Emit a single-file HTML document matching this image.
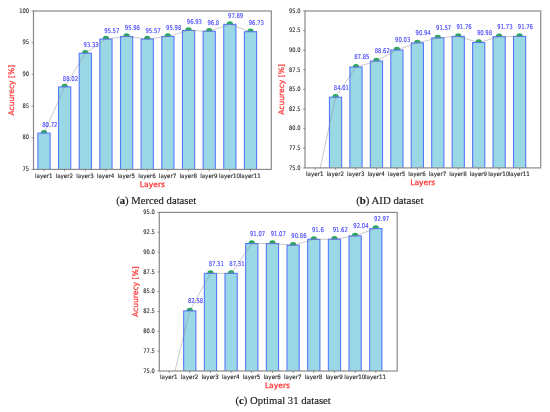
<!DOCTYPE html>
<html><head><meta charset="utf-8"><title>Figure</title>
<style>
html,body{margin:0;padding:0;background:#fff;}
body{width:550px;height:412px;overflow:hidden;}
svg{display:block;}
svg text{font-family:"DejaVu Sans","Liberation Sans",sans-serif;}
svg text.cap{font-family:"Liberation Serif","DejaVu Serif",serif;font-size:11px;fill:#1a1a1a;stroke:#1a1a1a;stroke-width:0.15px;}
</style></head><body>
<svg width="550" height="412" viewBox="0 0 550 412">
<rect width="550" height="412" fill="#fff"/>
<clipPath id="clipa"><rect x="33.5" y="11.0" width="237.80" height="158.40"/></clipPath>
<g clip-path="url(#clipa)">
<path d="M40.80,133.56 L40.80,133.16 A3.2,3.2 0 0 1 47.20,133.16 L47.20,133.56 Z" fill="#2aa75a"/>
<path d="M61.45,87.31 L61.45,86.91 A3.2,3.2 0 0 1 67.85,86.91 L67.85,87.31 Z" fill="#2aa75a"/>
<path d="M82.10,53.66 L82.10,53.26 A3.2,3.2 0 0 1 88.50,53.26 L88.50,53.66 Z" fill="#2aa75a"/>
<path d="M102.75,39.47 L102.75,39.07 A3.2,3.2 0 0 1 109.15,39.07 L109.15,39.47 Z" fill="#2aa75a"/>
<path d="M123.40,36.87 L123.40,36.47 A3.2,3.2 0 0 1 129.80,36.47 L129.80,36.87 Z" fill="#2aa75a"/>
<path d="M144.05,39.47 L144.05,39.07 A3.2,3.2 0 0 1 150.45,39.07 L150.45,39.47 Z" fill="#2aa75a"/>
<path d="M164.70,36.87 L164.70,36.47 A3.2,3.2 0 0 1 171.10,36.47 L171.10,36.87 Z" fill="#2aa75a"/>
<path d="M185.35,30.85 L185.35,30.45 A3.2,3.2 0 0 1 191.75,30.45 L191.75,30.85 Z" fill="#2aa75a"/>
<path d="M206.00,31.68 L206.00,31.28 A3.2,3.2 0 0 1 212.40,31.28 L212.40,31.68 Z" fill="#2aa75a"/>
<path d="M226.65,24.77 L226.65,24.37 A3.2,3.2 0 0 1 233.05,24.37 L233.05,24.77 Z" fill="#2aa75a"/>
<path d="M247.30,32.12 L247.30,31.72 A3.2,3.2 0 0 1 253.70,31.72 L253.70,32.12 Z" fill="#2aa75a"/>
<rect x="37.90" y="133.16" width="12.2" height="39.24" fill="#81cee0" fill-opacity="0.8" stroke="#5878fb" stroke-width="1.1"/>
<rect x="58.55" y="86.91" width="12.2" height="85.49" fill="#81cee0" fill-opacity="0.8" stroke="#5878fb" stroke-width="1.1"/>
<rect x="79.20" y="53.26" width="12.2" height="119.14" fill="#81cee0" fill-opacity="0.8" stroke="#5878fb" stroke-width="1.1"/>
<rect x="99.85" y="39.07" width="12.2" height="133.33" fill="#81cee0" fill-opacity="0.8" stroke="#5878fb" stroke-width="1.1"/>
<rect x="120.50" y="36.47" width="12.2" height="135.93" fill="#81cee0" fill-opacity="0.8" stroke="#5878fb" stroke-width="1.1"/>
<rect x="141.15" y="39.07" width="12.2" height="133.33" fill="#81cee0" fill-opacity="0.8" stroke="#5878fb" stroke-width="1.1"/>
<rect x="161.80" y="36.47" width="12.2" height="135.93" fill="#81cee0" fill-opacity="0.8" stroke="#5878fb" stroke-width="1.1"/>
<rect x="182.45" y="30.45" width="12.2" height="141.95" fill="#81cee0" fill-opacity="0.8" stroke="#5878fb" stroke-width="1.1"/>
<rect x="203.10" y="31.28" width="12.2" height="141.12" fill="#81cee0" fill-opacity="0.8" stroke="#5878fb" stroke-width="1.1"/>
<rect x="223.75" y="24.37" width="12.2" height="148.03" fill="#81cee0" fill-opacity="0.8" stroke="#5878fb" stroke-width="1.1"/>
<rect x="244.40" y="31.72" width="12.2" height="140.68" fill="#81cee0" fill-opacity="0.8" stroke="#5878fb" stroke-width="1.1"/>
<polyline fill="none" stroke="#808080" stroke-opacity="0.55" stroke-width="0.75" points="44.00,133.16 64.65,86.91 85.30,53.26 105.95,39.07 126.60,36.47 147.25,39.07 167.90,36.47 188.55,30.45 209.20,31.28 229.85,24.37 250.50,31.72"/>
</g>
<text transform="translate(42.20,126.86) scale(0.805,1)" font-size="6.6" fill="#4848ff" stroke="#4848ff" stroke-width="0.15" text-anchor="start">80.72</text>
<text transform="translate(62.85,80.61) scale(0.805,1)" font-size="6.6" fill="#4848ff" stroke="#4848ff" stroke-width="0.15" text-anchor="start">88.02</text>
<text transform="translate(83.50,46.96) scale(0.805,1)" font-size="6.6" fill="#4848ff" stroke="#4848ff" stroke-width="0.15" text-anchor="start">93.33</text>
<text transform="translate(104.15,32.77) scale(0.805,1)" font-size="6.6" fill="#4848ff" stroke="#4848ff" stroke-width="0.15" text-anchor="start">95.57</text>
<text transform="translate(124.80,30.17) scale(0.805,1)" font-size="6.6" fill="#4848ff" stroke="#4848ff" stroke-width="0.15" text-anchor="start">95.98</text>
<text transform="translate(145.45,32.77) scale(0.805,1)" font-size="6.6" fill="#4848ff" stroke="#4848ff" stroke-width="0.15" text-anchor="start">95.57</text>
<text transform="translate(166.10,30.17) scale(0.805,1)" font-size="6.6" fill="#4848ff" stroke="#4848ff" stroke-width="0.15" text-anchor="start">95.98</text>
<text transform="translate(186.75,24.15) scale(0.805,1)" font-size="6.6" fill="#4848ff" stroke="#4848ff" stroke-width="0.15" text-anchor="start">96.93</text>
<text transform="translate(207.40,24.98) scale(0.805,1)" font-size="6.6" fill="#4848ff" stroke="#4848ff" stroke-width="0.15" text-anchor="start">96.8</text>
<text transform="translate(228.05,18.07) scale(0.805,1)" font-size="6.6" fill="#4848ff" stroke="#4848ff" stroke-width="0.15" text-anchor="start">97.89</text>
<text transform="translate(248.70,25.42) scale(0.805,1)" font-size="6.6" fill="#4848ff" stroke="#4848ff" stroke-width="0.15" text-anchor="start">96.73</text>
<rect x="33.5" y="11.0" width="237.80" height="158.40" fill="none" stroke="#868686" stroke-width="1.15"/>
<line x1="44.00" x2="44.00" y1="169.4" y2="171.4" stroke="#444" stroke-width="0.5"/>
<text transform="translate(43.70,177.80) scale(0.93,1)" font-size="6.0" fill="#262626" stroke="#262626" stroke-width="0.12" text-anchor="middle">layer1</text>
<line x1="64.65" x2="64.65" y1="169.4" y2="171.4" stroke="#444" stroke-width="0.5"/>
<text transform="translate(64.35,177.80) scale(0.93,1)" font-size="6.0" fill="#262626" stroke="#262626" stroke-width="0.12" text-anchor="middle">layer2</text>
<line x1="85.30" x2="85.30" y1="169.4" y2="171.4" stroke="#444" stroke-width="0.5"/>
<text transform="translate(85.00,177.80) scale(0.93,1)" font-size="6.0" fill="#262626" stroke="#262626" stroke-width="0.12" text-anchor="middle">layer3</text>
<line x1="105.95" x2="105.95" y1="169.4" y2="171.4" stroke="#444" stroke-width="0.5"/>
<text transform="translate(105.65,177.80) scale(0.93,1)" font-size="6.0" fill="#262626" stroke="#262626" stroke-width="0.12" text-anchor="middle">layer4</text>
<line x1="126.60" x2="126.60" y1="169.4" y2="171.4" stroke="#444" stroke-width="0.5"/>
<text transform="translate(126.30,177.80) scale(0.93,1)" font-size="6.0" fill="#262626" stroke="#262626" stroke-width="0.12" text-anchor="middle">layer5</text>
<line x1="147.25" x2="147.25" y1="169.4" y2="171.4" stroke="#444" stroke-width="0.5"/>
<text transform="translate(146.95,177.80) scale(0.93,1)" font-size="6.0" fill="#262626" stroke="#262626" stroke-width="0.12" text-anchor="middle">layer6</text>
<line x1="167.90" x2="167.90" y1="169.4" y2="171.4" stroke="#444" stroke-width="0.5"/>
<text transform="translate(167.60,177.80) scale(0.93,1)" font-size="6.0" fill="#262626" stroke="#262626" stroke-width="0.12" text-anchor="middle">layer7</text>
<line x1="188.55" x2="188.55" y1="169.4" y2="171.4" stroke="#444" stroke-width="0.5"/>
<text transform="translate(188.25,177.80) scale(0.93,1)" font-size="6.0" fill="#262626" stroke="#262626" stroke-width="0.12" text-anchor="middle">layer8</text>
<line x1="209.20" x2="209.20" y1="169.4" y2="171.4" stroke="#444" stroke-width="0.5"/>
<text transform="translate(208.90,177.80) scale(0.93,1)" font-size="6.0" fill="#262626" stroke="#262626" stroke-width="0.12" text-anchor="middle">layer9</text>
<line x1="229.85" x2="229.85" y1="169.4" y2="171.4" stroke="#444" stroke-width="0.5"/>
<text transform="translate(229.55,177.80) scale(0.93,1)" font-size="6.0" fill="#262626" stroke="#262626" stroke-width="0.12" text-anchor="middle">layer10</text>
<line x1="250.50" x2="250.50" y1="169.4" y2="171.4" stroke="#444" stroke-width="0.5"/>
<text transform="translate(250.20,177.80) scale(0.93,1)" font-size="6.0" fill="#262626" stroke="#262626" stroke-width="0.12" text-anchor="middle">layer11</text>
<line x1="31.5" x2="33.5" y1="169.40" y2="169.40" stroke="#444" stroke-width="0.5"/>
<text transform="translate(29.00,171.10) scale(0.83,1)" font-size="6.2" fill="#262626" stroke="#262626" stroke-width="0.12" text-anchor="end">75</text>
<line x1="31.5" x2="33.5" y1="137.72" y2="137.72" stroke="#444" stroke-width="0.5"/>
<text transform="translate(29.00,139.42) scale(0.83,1)" font-size="6.2" fill="#262626" stroke="#262626" stroke-width="0.12" text-anchor="end">80</text>
<line x1="31.5" x2="33.5" y1="106.04" y2="106.04" stroke="#444" stroke-width="0.5"/>
<text transform="translate(29.00,107.74) scale(0.83,1)" font-size="6.2" fill="#262626" stroke="#262626" stroke-width="0.12" text-anchor="end">85</text>
<line x1="31.5" x2="33.5" y1="74.36" y2="74.36" stroke="#444" stroke-width="0.5"/>
<text transform="translate(29.00,76.06) scale(0.83,1)" font-size="6.2" fill="#262626" stroke="#262626" stroke-width="0.12" text-anchor="end">90</text>
<line x1="31.5" x2="33.5" y1="42.68" y2="42.68" stroke="#444" stroke-width="0.5"/>
<text transform="translate(29.00,44.38) scale(0.83,1)" font-size="6.2" fill="#262626" stroke="#262626" stroke-width="0.12" text-anchor="end">95</text>
<line x1="31.5" x2="33.5" y1="11.00" y2="11.00" stroke="#444" stroke-width="0.5"/>
<text transform="translate(29.00,12.70) scale(0.83,1)" font-size="6.2" fill="#262626" stroke="#262626" stroke-width="0.12" text-anchor="end">100</text>
<text transform="translate(152.40,186.70) scale(1.0,1)" font-size="7.6" fill="#ff3333" stroke="#ff3333" stroke-width="0.25" text-anchor="middle">Layers</text>
<text transform="translate(14.00,90.20) scale(1.0,1) rotate(-90)" font-size="7.6" fill="#ff3333" stroke="#ff3333" stroke-width="0.25" text-anchor="middle">Acuurecy [%]</text>
<text class="cap" x="156.2" y="203.6" text-anchor="middle" textLength="80.0" lengthAdjust="spacingAndGlyphs">(<tspan font-weight="bold">a</tspan>) Merced dataset</text>
<clipPath id="clipb"><rect x="305.0" y="11.0" width="235.70" height="156.90"/></clipPath>
<g clip-path="url(#clipb)">
<path d="M311.90,191.84 L311.90,191.44 A3.2,3.2 0 0 1 318.30,191.44 L318.30,191.84 Z" fill="#2aa75a"/>
<path d="M332.35,97.62 L332.35,97.22 A3.2,3.2 0 0 1 338.75,97.22 L338.75,97.62 Z" fill="#2aa75a"/>
<path d="M352.80,67.49 L352.80,67.09 A3.2,3.2 0 0 1 359.20,67.09 L359.20,67.49 Z" fill="#2aa75a"/>
<path d="M373.25,61.45 L373.25,61.05 A3.2,3.2 0 0 1 379.65,61.05 L379.65,61.45 Z" fill="#2aa75a"/>
<path d="M393.70,50.39 L393.70,49.99 A3.2,3.2 0 0 1 400.10,49.99 L400.10,50.39 Z" fill="#2aa75a"/>
<path d="M414.15,43.25 L414.15,42.85 A3.2,3.2 0 0 1 420.55,42.85 L420.55,43.25 Z" fill="#2aa75a"/>
<path d="M434.60,38.31 L434.60,37.91 A3.2,3.2 0 0 1 441.00,37.91 L441.00,38.31 Z" fill="#2aa75a"/>
<path d="M455.05,36.82 L455.05,36.42 A3.2,3.2 0 0 1 461.45,36.42 L461.45,36.82 Z" fill="#2aa75a"/>
<path d="M475.50,42.94 L475.50,42.54 A3.2,3.2 0 0 1 481.90,42.54 L481.90,42.94 Z" fill="#2aa75a"/>
<path d="M495.95,37.05 L495.95,36.65 A3.2,3.2 0 0 1 502.35,36.65 L502.35,37.05 Z" fill="#2aa75a"/>
<path d="M516.40,36.82 L516.40,36.42 A3.2,3.2 0 0 1 522.80,36.42 L522.80,36.82 Z" fill="#2aa75a"/>
<rect x="329.45" y="97.22" width="12.2" height="73.68" fill="#81cee0" fill-opacity="0.8" stroke="#5878fb" stroke-width="1.1"/>
<rect x="349.90" y="67.09" width="12.2" height="103.81" fill="#81cee0" fill-opacity="0.8" stroke="#5878fb" stroke-width="1.1"/>
<rect x="370.35" y="61.05" width="12.2" height="109.85" fill="#81cee0" fill-opacity="0.8" stroke="#5878fb" stroke-width="1.1"/>
<rect x="390.80" y="49.99" width="12.2" height="120.91" fill="#81cee0" fill-opacity="0.8" stroke="#5878fb" stroke-width="1.1"/>
<rect x="411.25" y="42.85" width="12.2" height="128.05" fill="#81cee0" fill-opacity="0.8" stroke="#5878fb" stroke-width="1.1"/>
<rect x="431.70" y="37.91" width="12.2" height="132.99" fill="#81cee0" fill-opacity="0.8" stroke="#5878fb" stroke-width="1.1"/>
<rect x="452.15" y="36.42" width="12.2" height="134.48" fill="#81cee0" fill-opacity="0.8" stroke="#5878fb" stroke-width="1.1"/>
<rect x="472.60" y="42.54" width="12.2" height="128.36" fill="#81cee0" fill-opacity="0.8" stroke="#5878fb" stroke-width="1.1"/>
<rect x="493.05" y="36.65" width="12.2" height="134.25" fill="#81cee0" fill-opacity="0.8" stroke="#5878fb" stroke-width="1.1"/>
<rect x="513.50" y="36.42" width="12.2" height="134.48" fill="#81cee0" fill-opacity="0.8" stroke="#5878fb" stroke-width="1.1"/>
<polyline fill="none" stroke="#808080" stroke-opacity="0.55" stroke-width="0.75" points="315.10,191.44 335.55,97.22 356.00,67.09 376.45,61.05 396.90,49.99 417.35,42.85 437.80,37.91 458.25,36.42 478.70,42.54 499.15,36.65 519.60,36.42"/>
</g>
<text transform="translate(333.75,89.52) scale(0.805,1)" font-size="6.6" fill="#4848ff" stroke="#4848ff" stroke-width="0.15" text-anchor="start">84.01</text>
<text transform="translate(354.20,59.39) scale(0.805,1)" font-size="6.6" fill="#4848ff" stroke="#4848ff" stroke-width="0.15" text-anchor="start">87.85</text>
<text transform="translate(374.65,53.35) scale(0.805,1)" font-size="6.6" fill="#4848ff" stroke="#4848ff" stroke-width="0.15" text-anchor="start">88.62</text>
<text transform="translate(395.10,42.29) scale(0.805,1)" font-size="6.6" fill="#4848ff" stroke="#4848ff" stroke-width="0.15" text-anchor="start">90.03</text>
<text transform="translate(415.55,35.15) scale(0.805,1)" font-size="6.6" fill="#4848ff" stroke="#4848ff" stroke-width="0.15" text-anchor="start">90.94</text>
<text transform="translate(436.00,30.21) scale(0.805,1)" font-size="6.6" fill="#4848ff" stroke="#4848ff" stroke-width="0.15" text-anchor="start">91.57</text>
<text transform="translate(456.45,28.72) scale(0.805,1)" font-size="6.6" fill="#4848ff" stroke="#4848ff" stroke-width="0.15" text-anchor="start">91.76</text>
<text transform="translate(476.90,34.84) scale(0.805,1)" font-size="6.6" fill="#4848ff" stroke="#4848ff" stroke-width="0.15" text-anchor="start">90.98</text>
<text transform="translate(497.35,28.95) scale(0.805,1)" font-size="6.6" fill="#4848ff" stroke="#4848ff" stroke-width="0.15" text-anchor="start">91.73</text>
<text transform="translate(517.80,28.72) scale(0.805,1)" font-size="6.6" fill="#4848ff" stroke="#4848ff" stroke-width="0.15" text-anchor="start">91.76</text>
<rect x="305.0" y="11.0" width="235.70" height="156.90" fill="none" stroke="#868686" stroke-width="1.15"/>
<line x1="315.10" x2="315.10" y1="167.9" y2="169.9" stroke="#444" stroke-width="0.5"/>
<text transform="translate(314.80,176.30) scale(0.93,1)" font-size="6.0" fill="#262626" stroke="#262626" stroke-width="0.12" text-anchor="middle">layer1</text>
<line x1="335.55" x2="335.55" y1="167.9" y2="169.9" stroke="#444" stroke-width="0.5"/>
<text transform="translate(335.25,176.30) scale(0.93,1)" font-size="6.0" fill="#262626" stroke="#262626" stroke-width="0.12" text-anchor="middle">layer2</text>
<line x1="356.00" x2="356.00" y1="167.9" y2="169.9" stroke="#444" stroke-width="0.5"/>
<text transform="translate(355.70,176.30) scale(0.93,1)" font-size="6.0" fill="#262626" stroke="#262626" stroke-width="0.12" text-anchor="middle">layer3</text>
<line x1="376.45" x2="376.45" y1="167.9" y2="169.9" stroke="#444" stroke-width="0.5"/>
<text transform="translate(376.15,176.30) scale(0.93,1)" font-size="6.0" fill="#262626" stroke="#262626" stroke-width="0.12" text-anchor="middle">layer4</text>
<line x1="396.90" x2="396.90" y1="167.9" y2="169.9" stroke="#444" stroke-width="0.5"/>
<text transform="translate(396.60,176.30) scale(0.93,1)" font-size="6.0" fill="#262626" stroke="#262626" stroke-width="0.12" text-anchor="middle">layer5</text>
<line x1="417.35" x2="417.35" y1="167.9" y2="169.9" stroke="#444" stroke-width="0.5"/>
<text transform="translate(417.05,176.30) scale(0.93,1)" font-size="6.0" fill="#262626" stroke="#262626" stroke-width="0.12" text-anchor="middle">layer6</text>
<line x1="437.80" x2="437.80" y1="167.9" y2="169.9" stroke="#444" stroke-width="0.5"/>
<text transform="translate(437.50,176.30) scale(0.93,1)" font-size="6.0" fill="#262626" stroke="#262626" stroke-width="0.12" text-anchor="middle">layer7</text>
<line x1="458.25" x2="458.25" y1="167.9" y2="169.9" stroke="#444" stroke-width="0.5"/>
<text transform="translate(457.95,176.30) scale(0.93,1)" font-size="6.0" fill="#262626" stroke="#262626" stroke-width="0.12" text-anchor="middle">layer8</text>
<line x1="478.70" x2="478.70" y1="167.9" y2="169.9" stroke="#444" stroke-width="0.5"/>
<text transform="translate(478.40,176.30) scale(0.93,1)" font-size="6.0" fill="#262626" stroke="#262626" stroke-width="0.12" text-anchor="middle">layer9</text>
<line x1="499.15" x2="499.15" y1="167.9" y2="169.9" stroke="#444" stroke-width="0.5"/>
<text transform="translate(498.85,176.30) scale(0.93,1)" font-size="6.0" fill="#262626" stroke="#262626" stroke-width="0.12" text-anchor="middle">layer10</text>
<line x1="519.60" x2="519.60" y1="167.9" y2="169.9" stroke="#444" stroke-width="0.5"/>
<text transform="translate(519.30,176.30) scale(0.93,1)" font-size="6.0" fill="#262626" stroke="#262626" stroke-width="0.12" text-anchor="middle">layer11</text>
<line x1="303.0" x2="305.0" y1="167.90" y2="167.90" stroke="#444" stroke-width="0.5"/>
<text transform="translate(300.50,169.60) scale(0.83,1)" font-size="6.2" fill="#262626" stroke="#262626" stroke-width="0.12" text-anchor="end">75.0</text>
<line x1="303.0" x2="305.0" y1="148.29" y2="148.29" stroke="#444" stroke-width="0.5"/>
<text transform="translate(300.50,149.99) scale(0.83,1)" font-size="6.2" fill="#262626" stroke="#262626" stroke-width="0.12" text-anchor="end">77.5</text>
<line x1="303.0" x2="305.0" y1="128.68" y2="128.68" stroke="#444" stroke-width="0.5"/>
<text transform="translate(300.50,130.38) scale(0.83,1)" font-size="6.2" fill="#262626" stroke="#262626" stroke-width="0.12" text-anchor="end">80.0</text>
<line x1="303.0" x2="305.0" y1="109.06" y2="109.06" stroke="#444" stroke-width="0.5"/>
<text transform="translate(300.50,110.76) scale(0.83,1)" font-size="6.2" fill="#262626" stroke="#262626" stroke-width="0.12" text-anchor="end">82.5</text>
<line x1="303.0" x2="305.0" y1="89.45" y2="89.45" stroke="#444" stroke-width="0.5"/>
<text transform="translate(300.50,91.15) scale(0.83,1)" font-size="6.2" fill="#262626" stroke="#262626" stroke-width="0.12" text-anchor="end">85.0</text>
<line x1="303.0" x2="305.0" y1="69.84" y2="69.84" stroke="#444" stroke-width="0.5"/>
<text transform="translate(300.50,71.54) scale(0.83,1)" font-size="6.2" fill="#262626" stroke="#262626" stroke-width="0.12" text-anchor="end">87.5</text>
<line x1="303.0" x2="305.0" y1="50.22" y2="50.22" stroke="#444" stroke-width="0.5"/>
<text transform="translate(300.50,51.92) scale(0.83,1)" font-size="6.2" fill="#262626" stroke="#262626" stroke-width="0.12" text-anchor="end">90.0</text>
<line x1="303.0" x2="305.0" y1="30.61" y2="30.61" stroke="#444" stroke-width="0.5"/>
<text transform="translate(300.50,32.31) scale(0.83,1)" font-size="6.2" fill="#262626" stroke="#262626" stroke-width="0.12" text-anchor="end">92.5</text>
<line x1="303.0" x2="305.0" y1="11.00" y2="11.00" stroke="#444" stroke-width="0.5"/>
<text transform="translate(300.50,12.70) scale(0.83,1)" font-size="6.2" fill="#262626" stroke="#262626" stroke-width="0.12" text-anchor="end">95.0</text>
<text transform="translate(422.75,185.20) scale(1.0,1)" font-size="7.6" fill="#ff3333" stroke="#ff3333" stroke-width="0.25" text-anchor="middle">Layers</text>
<text transform="translate(284.20,89.45) scale(1.0,1) rotate(-90)" font-size="7.6" fill="#ff3333" stroke="#ff3333" stroke-width="0.25" text-anchor="middle">Acuurecy [%]</text>
<text class="cap" x="389.8" y="203.6" text-anchor="middle" textLength="67.2" lengthAdjust="spacingAndGlyphs">(<tspan font-weight="bold">b</tspan>) AID dataset</text>
<clipPath id="clipc"><rect x="159.3" y="212.4" width="237.90" height="158.60"/></clipPath>
<g clip-path="url(#clipc)">
<path d="M165.90,395.19 L165.90,394.79 A3.2,3.2 0 0 1 172.30,394.79 L172.30,395.19 Z" fill="#2aa75a"/>
<path d="M186.57,311.29 L186.57,310.89 A3.2,3.2 0 0 1 192.97,310.89 L192.97,311.29 Z" fill="#2aa75a"/>
<path d="M207.24,273.78 L207.24,273.38 A3.2,3.2 0 0 1 213.64,273.38 L213.64,273.78 Z" fill="#2aa75a"/>
<path d="M227.91,273.78 L227.91,273.38 A3.2,3.2 0 0 1 234.31,273.38 L234.31,273.78 Z" fill="#2aa75a"/>
<path d="M248.58,243.96 L248.58,243.56 A3.2,3.2 0 0 1 254.98,243.56 L254.98,243.96 Z" fill="#2aa75a"/>
<path d="M269.25,243.96 L269.25,243.56 A3.2,3.2 0 0 1 275.65,243.56 L275.65,243.96 Z" fill="#2aa75a"/>
<path d="M289.92,245.63 L289.92,245.23 A3.2,3.2 0 0 1 296.32,245.23 L296.32,245.63 Z" fill="#2aa75a"/>
<path d="M310.59,239.76 L310.59,239.36 A3.2,3.2 0 0 1 316.99,239.36 L316.99,239.76 Z" fill="#2aa75a"/>
<path d="M331.26,239.60 L331.26,239.20 A3.2,3.2 0 0 1 337.66,239.20 L337.66,239.60 Z" fill="#2aa75a"/>
<path d="M351.93,236.27 L351.93,235.87 A3.2,3.2 0 0 1 358.33,235.87 L358.33,236.27 Z" fill="#2aa75a"/>
<path d="M372.60,228.90 L372.60,228.50 A3.2,3.2 0 0 1 379.00,228.50 L379.00,228.90 Z" fill="#2aa75a"/>
<rect x="183.67" y="310.89" width="12.2" height="63.11" fill="#81cee0" fill-opacity="0.8" stroke="#5878fb" stroke-width="1.1"/>
<rect x="204.34" y="273.38" width="12.2" height="100.62" fill="#81cee0" fill-opacity="0.8" stroke="#5878fb" stroke-width="1.1"/>
<rect x="225.01" y="273.38" width="12.2" height="100.62" fill="#81cee0" fill-opacity="0.8" stroke="#5878fb" stroke-width="1.1"/>
<rect x="245.68" y="243.56" width="12.2" height="130.44" fill="#81cee0" fill-opacity="0.8" stroke="#5878fb" stroke-width="1.1"/>
<rect x="266.35" y="243.56" width="12.2" height="130.44" fill="#81cee0" fill-opacity="0.8" stroke="#5878fb" stroke-width="1.1"/>
<rect x="287.02" y="245.23" width="12.2" height="128.77" fill="#81cee0" fill-opacity="0.8" stroke="#5878fb" stroke-width="1.1"/>
<rect x="307.69" y="239.36" width="12.2" height="134.64" fill="#81cee0" fill-opacity="0.8" stroke="#5878fb" stroke-width="1.1"/>
<rect x="328.36" y="239.20" width="12.2" height="134.80" fill="#81cee0" fill-opacity="0.8" stroke="#5878fb" stroke-width="1.1"/>
<rect x="349.03" y="235.87" width="12.2" height="138.13" fill="#81cee0" fill-opacity="0.8" stroke="#5878fb" stroke-width="1.1"/>
<rect x="369.70" y="228.50" width="12.2" height="145.50" fill="#81cee0" fill-opacity="0.8" stroke="#5878fb" stroke-width="1.1"/>
<polyline fill="none" stroke="#808080" stroke-opacity="0.55" stroke-width="0.75" points="169.10,394.79 189.77,310.89 210.44,273.38 231.11,273.38 251.78,243.56 272.45,243.56 293.12,245.23 313.79,239.36 334.46,239.20 355.13,235.87 375.80,228.50"/>
</g>
<text transform="translate(187.97,303.39) scale(0.805,1)" font-size="6.6" fill="#4848ff" stroke="#4848ff" stroke-width="0.15" text-anchor="start">82.58</text>
<text transform="translate(208.64,265.88) scale(0.805,1)" font-size="6.6" fill="#4848ff" stroke="#4848ff" stroke-width="0.15" text-anchor="start">87.31</text>
<text transform="translate(229.31,265.88) scale(0.805,1)" font-size="6.6" fill="#4848ff" stroke="#4848ff" stroke-width="0.15" text-anchor="start">87.31</text>
<text transform="translate(249.98,236.06) scale(0.805,1)" font-size="6.6" fill="#4848ff" stroke="#4848ff" stroke-width="0.15" text-anchor="start">91.07</text>
<text transform="translate(270.65,236.06) scale(0.805,1)" font-size="6.6" fill="#4848ff" stroke="#4848ff" stroke-width="0.15" text-anchor="start">91.07</text>
<text transform="translate(291.32,237.73) scale(0.805,1)" font-size="6.6" fill="#4848ff" stroke="#4848ff" stroke-width="0.15" text-anchor="start">90.86</text>
<text transform="translate(311.99,231.86) scale(0.805,1)" font-size="6.6" fill="#4848ff" stroke="#4848ff" stroke-width="0.15" text-anchor="start">91.6</text>
<text transform="translate(332.66,231.70) scale(0.805,1)" font-size="6.6" fill="#4848ff" stroke="#4848ff" stroke-width="0.15" text-anchor="start">91.62</text>
<text transform="translate(353.33,228.37) scale(0.805,1)" font-size="6.6" fill="#4848ff" stroke="#4848ff" stroke-width="0.15" text-anchor="start">92.04</text>
<text transform="translate(374.00,221.00) scale(0.805,1)" font-size="6.6" fill="#4848ff" stroke="#4848ff" stroke-width="0.15" text-anchor="start">92.97</text>
<rect x="159.3" y="212.4" width="237.90" height="158.60" fill="none" stroke="#868686" stroke-width="1.15"/>
<line x1="169.10" x2="169.10" y1="371.0" y2="373.0" stroke="#444" stroke-width="0.5"/>
<text transform="translate(168.80,379.40) scale(0.93,1)" font-size="6.0" fill="#262626" stroke="#262626" stroke-width="0.12" text-anchor="middle">layer1</text>
<line x1="189.77" x2="189.77" y1="371.0" y2="373.0" stroke="#444" stroke-width="0.5"/>
<text transform="translate(189.47,379.40) scale(0.93,1)" font-size="6.0" fill="#262626" stroke="#262626" stroke-width="0.12" text-anchor="middle">layer2</text>
<line x1="210.44" x2="210.44" y1="371.0" y2="373.0" stroke="#444" stroke-width="0.5"/>
<text transform="translate(210.14,379.40) scale(0.93,1)" font-size="6.0" fill="#262626" stroke="#262626" stroke-width="0.12" text-anchor="middle">layer3</text>
<line x1="231.11" x2="231.11" y1="371.0" y2="373.0" stroke="#444" stroke-width="0.5"/>
<text transform="translate(230.81,379.40) scale(0.93,1)" font-size="6.0" fill="#262626" stroke="#262626" stroke-width="0.12" text-anchor="middle">layer4</text>
<line x1="251.78" x2="251.78" y1="371.0" y2="373.0" stroke="#444" stroke-width="0.5"/>
<text transform="translate(251.48,379.40) scale(0.93,1)" font-size="6.0" fill="#262626" stroke="#262626" stroke-width="0.12" text-anchor="middle">layer5</text>
<line x1="272.45" x2="272.45" y1="371.0" y2="373.0" stroke="#444" stroke-width="0.5"/>
<text transform="translate(272.15,379.40) scale(0.93,1)" font-size="6.0" fill="#262626" stroke="#262626" stroke-width="0.12" text-anchor="middle">layer6</text>
<line x1="293.12" x2="293.12" y1="371.0" y2="373.0" stroke="#444" stroke-width="0.5"/>
<text transform="translate(292.82,379.40) scale(0.93,1)" font-size="6.0" fill="#262626" stroke="#262626" stroke-width="0.12" text-anchor="middle">layer7</text>
<line x1="313.79" x2="313.79" y1="371.0" y2="373.0" stroke="#444" stroke-width="0.5"/>
<text transform="translate(313.49,379.40) scale(0.93,1)" font-size="6.0" fill="#262626" stroke="#262626" stroke-width="0.12" text-anchor="middle">layer8</text>
<line x1="334.46" x2="334.46" y1="371.0" y2="373.0" stroke="#444" stroke-width="0.5"/>
<text transform="translate(334.16,379.40) scale(0.93,1)" font-size="6.0" fill="#262626" stroke="#262626" stroke-width="0.12" text-anchor="middle">layer9</text>
<line x1="355.13" x2="355.13" y1="371.0" y2="373.0" stroke="#444" stroke-width="0.5"/>
<text transform="translate(354.83,379.40) scale(0.93,1)" font-size="6.0" fill="#262626" stroke="#262626" stroke-width="0.12" text-anchor="middle">layer10</text>
<line x1="375.80" x2="375.80" y1="371.0" y2="373.0" stroke="#444" stroke-width="0.5"/>
<text transform="translate(375.50,379.40) scale(0.93,1)" font-size="6.0" fill="#262626" stroke="#262626" stroke-width="0.12" text-anchor="middle">layer11</text>
<line x1="157.3" x2="159.3" y1="371.00" y2="371.00" stroke="#444" stroke-width="0.5"/>
<text transform="translate(154.80,372.70) scale(0.83,1)" font-size="6.2" fill="#262626" stroke="#262626" stroke-width="0.12" text-anchor="end">75.0</text>
<line x1="157.3" x2="159.3" y1="351.18" y2="351.18" stroke="#444" stroke-width="0.5"/>
<text transform="translate(154.80,352.88) scale(0.83,1)" font-size="6.2" fill="#262626" stroke="#262626" stroke-width="0.12" text-anchor="end">77.5</text>
<line x1="157.3" x2="159.3" y1="331.35" y2="331.35" stroke="#444" stroke-width="0.5"/>
<text transform="translate(154.80,333.05) scale(0.83,1)" font-size="6.2" fill="#262626" stroke="#262626" stroke-width="0.12" text-anchor="end">80.0</text>
<line x1="157.3" x2="159.3" y1="311.52" y2="311.52" stroke="#444" stroke-width="0.5"/>
<text transform="translate(154.80,313.22) scale(0.83,1)" font-size="6.2" fill="#262626" stroke="#262626" stroke-width="0.12" text-anchor="end">82.5</text>
<line x1="157.3" x2="159.3" y1="291.70" y2="291.70" stroke="#444" stroke-width="0.5"/>
<text transform="translate(154.80,293.40) scale(0.83,1)" font-size="6.2" fill="#262626" stroke="#262626" stroke-width="0.12" text-anchor="end">85.0</text>
<line x1="157.3" x2="159.3" y1="271.88" y2="271.88" stroke="#444" stroke-width="0.5"/>
<text transform="translate(154.80,273.57) scale(0.83,1)" font-size="6.2" fill="#262626" stroke="#262626" stroke-width="0.12" text-anchor="end">87.5</text>
<line x1="157.3" x2="159.3" y1="252.05" y2="252.05" stroke="#444" stroke-width="0.5"/>
<text transform="translate(154.80,253.75) scale(0.83,1)" font-size="6.2" fill="#262626" stroke="#262626" stroke-width="0.12" text-anchor="end">90.0</text>
<line x1="157.3" x2="159.3" y1="232.22" y2="232.22" stroke="#444" stroke-width="0.5"/>
<text transform="translate(154.80,233.92) scale(0.83,1)" font-size="6.2" fill="#262626" stroke="#262626" stroke-width="0.12" text-anchor="end">92.5</text>
<line x1="157.3" x2="159.3" y1="212.40" y2="212.40" stroke="#444" stroke-width="0.5"/>
<text transform="translate(154.80,214.10) scale(0.83,1)" font-size="6.2" fill="#262626" stroke="#262626" stroke-width="0.12" text-anchor="end">95.0</text>
<text transform="translate(277.45,388.30) scale(1.0,1)" font-size="7.6" fill="#ff3333" stroke="#ff3333" stroke-width="0.25" text-anchor="middle">Layers</text>
<text transform="translate(138.00,291.70) scale(1.0,1) rotate(-90)" font-size="7.6" fill="#ff3333" stroke="#ff3333" stroke-width="0.25" text-anchor="middle">Acuurecy [%]</text>
<text class="cap" x="283.2" y="404.1" text-anchor="middle" textLength="95.3" lengthAdjust="spacingAndGlyphs">(<tspan font-weight="bold">c</tspan>) Optimal 31 dataset</text>
</svg>
</body></html>
